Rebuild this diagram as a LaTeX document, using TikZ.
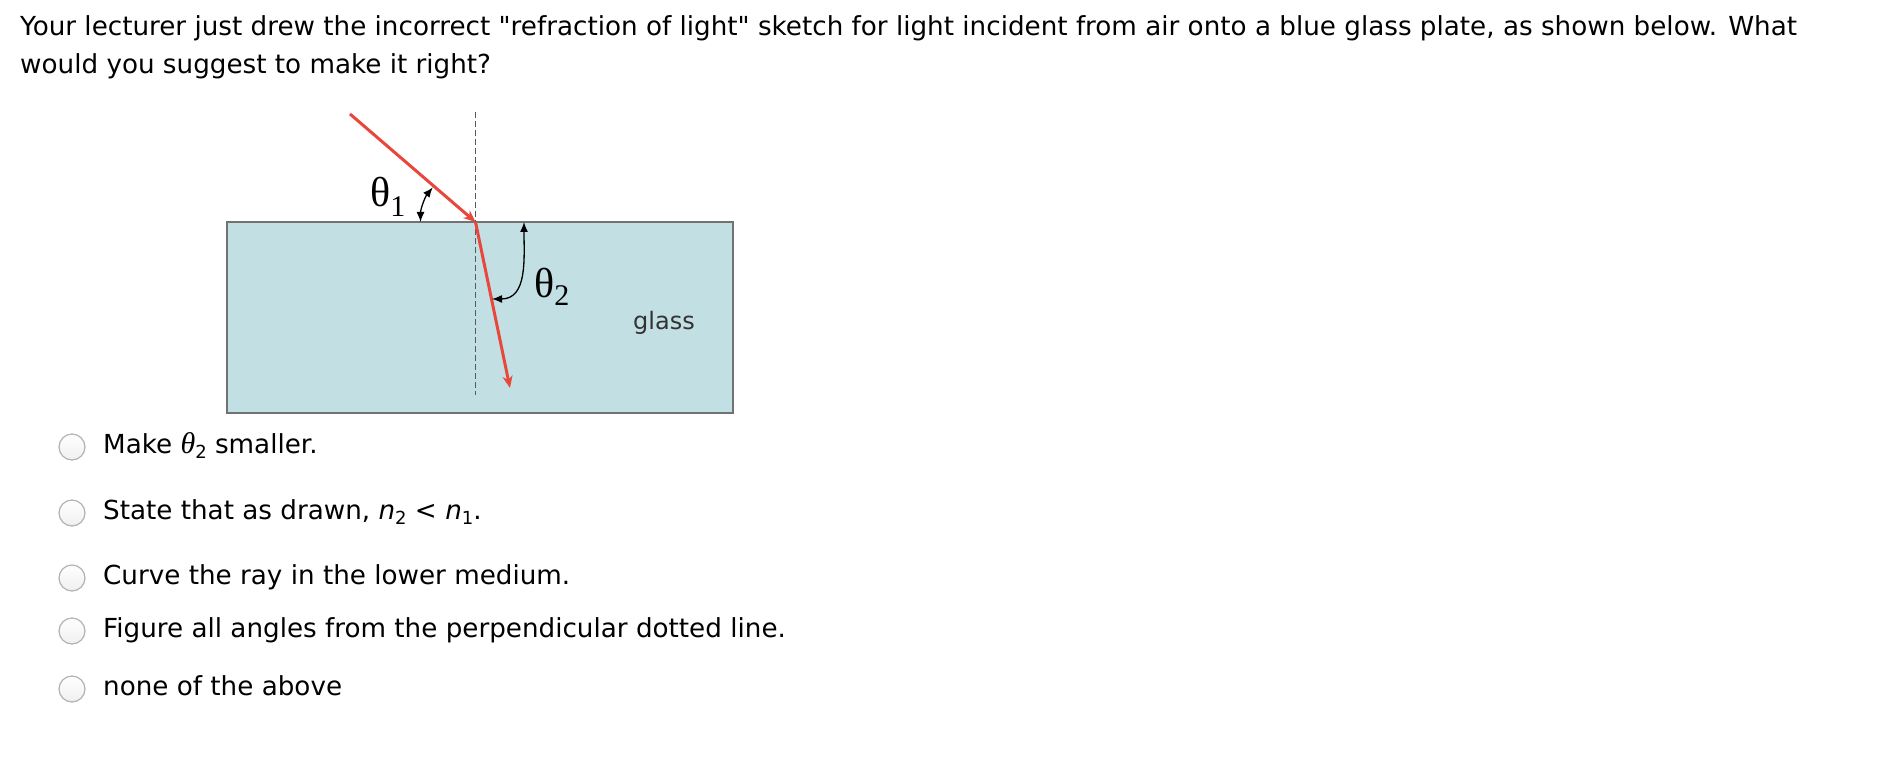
\documentclass[tikz,border=0pt]{standalone}
\usepackage{fontspec}
\setmainfont{DejaVu Sans}[Ligatures=TeXOff]
\newfontfamily\serifgreek{Liberation Serif}
\usetikzlibrary{arrows.meta}

\definecolor{glassblue}{HTML}{C2E0E4}
\definecolor{rayred}{HTML}{E8473B}
\definecolor{edgegray}{HTML}{727272}
\newcommand{\lowidx}[2][-0.35ex]{\raisebox{#1}{\fontsize{18}{18}\selectfont #2}}

\begin{document}
\begin{tikzpicture}[x=1pt,y=1pt,
    ray/.style={rayred,line width=3pt,-{Stealth[length=12pt,width=10pt]}},
    anglearc/.style={black,line width=1.3pt,{Latex[length=10pt,width=8pt]}-{Latex[length=10pt,width=8pt]}},
    normal/.style={black!65,line width=1.3pt,dash pattern=on 6pt off 3pt},
    radio/.style={circle,draw=black!30,line width=1.2pt,minimum size=26pt,inner sep=0pt,top color=white,bottom color=black!6},
    txt/.style={anchor=base west,inner sep=0pt,font=\fontsize{26.2}{31}\selectfont},
    anglelabel/.style={anchor=base west,inner sep=0pt,font=\serifgreek\fontsize{42}{42}\selectfont}]
    \useasboundingbox (0,0) rectangle (1888,756);

    % question
    \node[txt] (q1) at (20,720) {Your lecturer just drew the incorrect "refraction of light" sketch for light incident from air onto a blue glass plate, as shown below. What};
    \node[txt] (q2) at (20,682) {would you suggest to make it right?};

    % glass plate and rays
    \draw[edgegray,line width=1.5pt,fill=glassblue] (227,343) rectangle (733,534);
    \coordinate (O) at (475.5,534);
    \coordinate (A) at (350,642);
    \coordinate (B) at (510,368);
    \coordinate (Ntop) at (475.5,644);
    \coordinate (Nbot) at (475.5,361);
    \draw[normal] (Ntop) -- (Nbot);
    \draw[ray] (A) -- (O);
    \draw[ray] (O) -- (B);

    \draw[anglearc] ([shift={(180:55)}]O) arc[start angle=180,end angle=141,radius=55];
    \coordinate (t2a) at (524,534);
    \coordinate (t2b) at (492,457);
    \draw[anglearc] (t2a) to[out=-90,in=0,looseness=1.1] (t2b);

    \node[anglelabel] (th1) at (370,549) {θ\raisebox{-10pt}{\fontsize{30}{30}\selectfont 1}};
    \node[anglelabel] (th2) at (534,458) {θ\raisebox{-8pt}{\fontsize{30}{30}\selectfont 2}};
    \node[font=\fontsize{24}{24}\selectfont,text=black!80] (gl) at (664,433) {glass};

    % answers
    \foreach \yy/\t [count=\i] in {
        309/{Make {\serifgreek\itshape\fontsize{30}{30}\selectfont θ}\lowidx{2} smaller.},
        243/{State that as drawn, \textit{n}\lowidx{2} < \textit{n}\lowidx{1}.},
        178/{Curve the ray in the lower medium.},
        125/{Figure all angles from the perpendicular dotted line.},
        67/{none of the above}}
    {
        \node[radio] (r\i) at (72,\yy) {};
        \node[txt] (o\i) at (103,\yy-6.5) {\t};
    }
\end{tikzpicture}
\end{document}
